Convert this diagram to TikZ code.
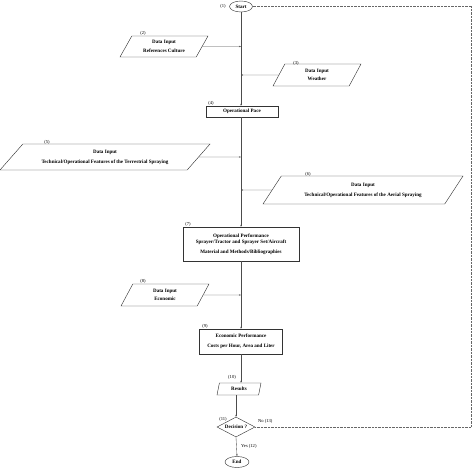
\documentclass[tikz,border=0pt]{standalone}
\usepackage{fontspec}
\setmainfont{Liberation Serif}
\usetikzlibrary{shapes.geometric,arrows.meta,decorations.markings}

\begin{document}
\begin{tikzpicture}[x=0.05cm,y=-0.05cm,
	every node/.style={inner sep=0pt},
	txt/.style={font=\fontsize{7.2}{9}\selectfont\bfseries, align=center},
	num/.style={font=\fontsize{6.5}{7}\selectfont},
	datain/.style={txt, draw=black!80, line width=0.6pt, trapezium, trapezium stretches body,
		trapezium left angle=#1, trapezium right angle={180-#1}},
	process/.style={txt, draw=black!80, line width=0.6pt, rectangle},
	terminal/.style={txt, draw=black!80, line width=0.6pt, ellipse},
	line/.style={draw=black!70, line width=0.5pt, -{Stealth[length=3pt,width=2pt]}},
	loopback/.style={draw=black!60, line width=0.5pt, dash pattern=on 1pt off 1pt}]
	
	\useasboundingbox (0,0) rectangle (474,468);
	
	% start
	\node[terminal, minimum width=1.15cm, minimum height=0.55cm] at (241,6.5) (start){Start};
	\node[num] at (223,6) (n1){(1)};
	
	% data input 2
	\node[datain=45, minimum width=4.4cm, minimum height=1.05cm] at (164,46.5) (in2){Data Input\\[3pt] References Culture};
	\node[num] at (143,33) (n2){(2)};
	
	% data input 3
	\node[datain=45, minimum width=4.4cm, minimum height=1.1cm] at (317,75) (in3){Data Input\\[3pt] Weather};
	\node[num] at (296,63) (n3){(3)};
	
	% operational pace
	\node[process, minimum width=3.6cm, minimum height=0.55cm] at (242,111.5) (pace){Operational Pace};
	\node[num] at (211,103) (n4){(4)};
	
	% data input 5
	\node[datain=32, minimum width=10.5cm, minimum height=1.3cm] at (105,157) (in5){Data Input\\[5pt] Technical/Operational Features of the Terrestrial Spraying};
	\node[num] at (47,142) (n5){(5)};
	
	% data input 6
	\node[datain=38, minimum width=10cm, minimum height=1.4cm] at (363,190) (in6){Data Input\\[5pt] Technical/Operational Features of the Aerial Spraying};
	\node[num] at (308,174) (n6){(6)};
	
	% operational performance
	\node[process, minimum width=5.8cm, minimum height=1.7cm] at (241,244) (perf){Operational Performance\\ Sprayer/Tractor and Sprayer Set/Aircraft\\[5pt] Material and Methods/Bibliographies};
	\node[num] at (188,224) (n7){(7)};
	
	% data input 8
	\node[datain=45, minimum width=4.4cm, minimum height=1.1cm] at (165,295) (in8){Data Input\\[3pt] Economic};
	\node[num] at (143,281) (n8){(8)};
	
	% economic performance
	\node[process, minimum width=4.15cm, minimum height=1.25cm] at (241,341.5) (econ){Economic Performance\\[5pt] Costs per Hour, Area and Liter};
	\node[num] at (205,326) (n9){(9)};
	
	% results
	\node[datain=56, minimum width=2.2cm, minimum height=0.6cm] at (239,389) (res){Results};
	\node[num] at (232,377) (n10){(10)};
	
	% decision
	\node[diamond, draw=black!80, line width=0.6pt, aspect=1.9, minimum width=1.9cm, minimum height=1cm] at (236,427) (dec){};
	\node[txt] at (dec) (dectxt){Decision ?};
	\node[num] at (223,419) (n11){(11)};
	
	% end
	\node[terminal, minimum width=1.2cm, minimum height=0.55cm] at (237,462) (end){End};
	
	% junctions on the main line
	\coordinate (j2) at (start |- in2);
	\coordinate (j3) at (start |- in3);
	\coordinate (j5) at (start |- in5);
	\coordinate (j6) at (start |- in6);
	\coordinate (j8) at (start |- in8);
	
	% main flow
	\draw[line] (start.south) -- (start.south |- pace.north);
	\draw[line] (start |- pace.south) -- (start |- perf.north);
	\draw[line] (perf.south) -- (econ.north);
	\draw[line] (econ.south) -- (econ.south |- res.north);
	\draw[line] (dec.north |- res.south) -- (dec.north);
	\draw[line] (dec.south) -- (end.north);
	\node[num, anchor=west] at (241,446) (yes){Yes (12)};
	
	% inputs
	\draw[line] (in2.east) -- (j2);
	\draw[line] (in3.west) -- (j3);
	\draw[line] (in5.east) -- (j5);
	\draw[line] (in6.west) -- (j6);
	\draw[line] (in8.east) -- (j8);
	
	% loop back
	\coordinate (cb) at (471,427);
	\coordinate (ct) at (471,6.5);
	\draw[loopback] (dec.east) -- (cb);
	\draw[loopback, postaction={decorate}, decoration={markings, mark=at position 0.5 with {\arrow[black!60]{Stealth[length=3pt,width=2pt]}}}] (cb) -- (ct);
	\draw[loopback] (ct) -- (start.east);
	\node[num, anchor=west] at (258,421) (no){No (13)};
\end{tikzpicture}
\end{document}
